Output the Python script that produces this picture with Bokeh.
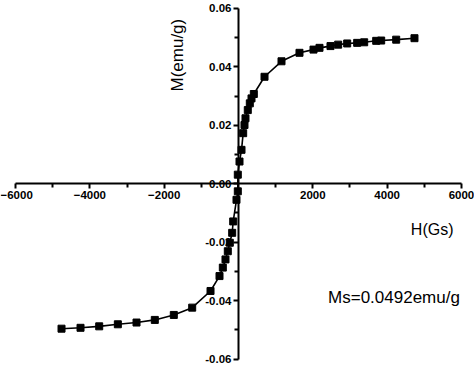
from bokeh.plotting import figure
from bokeh.models import FixedTicker, NumeralTickFormatter, BasicTickFormatter, Label, Range1d
from bokeh.embed import file_html
from bokeh.resources import INLINE

# Data (H in Gs, M in emu/g)
H = [-4762, -4251, -3748, -3247, -2744, -2252, -1741, -1246, -753, -511,
     -422, -350, -288, -234, -170, -143, -54, -19, -19, 27,
     81, 126, 161, 188, 250, 304, 350, 412, 700, 1157,
     1641, 2018, 2179, 2475, 2682, 2924, 3193, 3382, 3705, 3839,
     4243, 4735]
M = [-0.0496, -0.0493, -0.0488, -0.0481, -0.0475, -0.0466, -0.0449, -0.0424, -0.0367, -0.0316,
     -0.0287, -0.0259, -0.0231, -0.0202, -0.0168, -0.0129, -0.0055, -0.0026, 0.0031, 0.0076,
     0.0116, 0.0173, 0.0201, 0.0224, 0.0252, 0.0275, 0.0292, 0.0307, 0.0366, 0.0419,
     0.0448, 0.0459, 0.0465, 0.0471, 0.0476, 0.0480, 0.0482, 0.0484, 0.0489, 0.0490,
     0.0493, 0.0498]

x_ticks = [-6000, -4000, -2000, 2000, 4000, 6000]
x_minor = [-5000, -3000, -1000, 1000, 3000, 5000]
y_ticks = [-0.06, -0.04, -0.02, 0.0, 0.02, 0.04, 0.06]
y_minor = [-0.05, -0.03, -0.01, 0.01, 0.03, 0.05]

x_label = "H(Gs)"
y_label = "M(emu/g)"
note = "Ms=0.0492emu/g"

FONT = "Liberation Sans"

p = figure(width=474, height=365, output_backend="svg", toolbar_location=None,
           x_range=Range1d(-6404, 6350), y_range=Range1d(-0.0622, 0.0627),
           min_border_left=0, min_border_right=0, min_border_top=0, min_border_bottom=0)
p.outline_line_color = None
p.grid.visible = False
p.background_fill_color = "white"

for ax in (p.xaxis[0], p.yaxis[0]):
    ax.fixed_location = 0
    ax.axis_line_width = 2
    ax.axis_line_color = "black"
    ax.major_tick_line_width = 2
    ax.minor_tick_line_width = 2
    ax.major_tick_in = 0
    ax.major_tick_out = 5
    ax.minor_tick_in = 0
    ax.minor_tick_out = 4
    ax.major_label_text_font = FONT
    ax.major_label_text_font_style = "bold"
    ax.major_label_text_font_size = "11.5px"
    ax.major_label_text_color = "black"
    ax.major_label_standoff = 2

p.xaxis[0].ticker = FixedTicker(ticks=x_ticks, minor_ticks=x_minor)
p.xaxis[0].formatter = BasicTickFormatter(use_scientific=False)
p.yaxis[0].ticker = FixedTicker(ticks=y_ticks, minor_ticks=y_minor)
p.yaxis[0].formatter = NumeralTickFormatter(format="0.00")

# axis lines end at the outer ticks, as in the reference
p.xaxis[0].bounds = (-6000, 6000)
p.yaxis[0].bounds = (-0.06, 0.06)

p.line(H, M, line_color="black", line_width=1.6)
p.scatter(H, M, marker="square", size=7, fill_color="black", line_color="black")

p.add_layout(Label(x=5785, y=-0.0157, text=x_label, text_align="right", text_baseline="middle",
                   text_font=FONT, text_font_size="16px", text_color="black"))
p.add_layout(Label(x=-1641, y=0.044, text=y_label, text_align="center", text_baseline="middle",
                   angle=1.5708, text_font=FONT, text_font_size="17px", text_color="black"))
p.add_layout(Label(x=4183, y=-0.0389, text=note, text_align="center", text_baseline="middle",
                   text_font=FONT, text_font_size="17px", text_color="black"))

open("out.html", "w").write(file_html(p, INLINE))
